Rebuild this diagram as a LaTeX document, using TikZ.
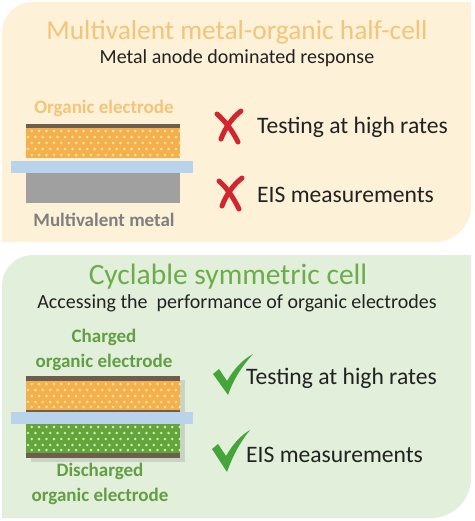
\documentclass[tikz,border=0pt]{standalone}
\usepackage{fontspec}
\setmainfont{Carlito}
\usetikzlibrary{shadows}
\definecolor{cream}{HTML}{FDF1D8}
\definecolor{mint}{HTML}{E2EFDA}
\definecolor{gold}{HTML}{F4C478}
\definecolor{leaf}{HTML}{6CAD4B}
\definecolor{darkleaf}{HTML}{629E44}
\definecolor{amber}{HTML}{F5B04E}
\definecolor{amberdot}{HTML}{FFE6A0}
\definecolor{grass}{HTML}{62A539}
\definecolor{grassdot}{HTML}{D4EBC0}
\definecolor{sky}{HTML}{B8D3EA}
\definecolor{slate}{HTML}{A0A0A0}
\definecolor{slatetext}{HTML}{7F7F7F}
\definecolor{umber}{HTML}{6E5E4E}
\definecolor{crimson}{HTML}{D3252D}
\definecolor{tick}{HTML}{45A53A}
\definecolor{ink}{HTML}{222222}
\tikzstyle{heading}=[inner sep=0pt, font=\fontsize{28}{30}\selectfont]
\tikzstyle{subhead}=[inner sep=0pt, text=ink, font=\fontsize{20}{22}\selectfont]
\tikzstyle{layerlabel}=[inner sep=0pt, align=center, font=\bfseries\fontsize{19}{25}\selectfont]
\tikzstyle{item}=[inner sep=0pt, anchor=west, text=ink, font=\fontsize{23.6}{25}\selectfont]
\tikzstyle{cross}=[crimson, line width=5pt, line cap=round]

\begin{document}
\begin{tikzpicture}[x=1pt,y=-1pt]
			\useasboundingbox (0,0) rectangle (474,521);
			\fill[white] (0,0) rectangle (474,521);
			\fill[cream] (2,242) -- (2,33) arc (180:270:31) -- (471,2) -- (471,206) arc (0:90:36) -- cycle;
			\fill[mint] (2,518) -- (2,286) arc (180:270:31) -- (471,255) -- (471,478) arc (0:90:40) -- cycle;
			% half-cell
			\node[heading, text=gold, font=\fontsize{27.4}{30}\selectfont] (title1) at (237,32) {Multivalent metal-organic half-cell};
			\node[subhead] (sub1) at (237,58) {Metal anode dominated response};
			\node[layerlabel, text=gold] (organic) at (104,108) {Organic electrode};
			\fill[umber] (26,124) rectangle (180,128);
			\fill[amber] (26,128) rectangle (180,158);
			\foreach \y [count=\i] in {131,137,143,149,155} {
				\foreach \x in {0,...,20} {
					\fill[amberdot] ({28+7.4*\x+3.7*mod(\i,2)},\y) circle (1.4);
				}
			}
			\fill[sky] (11,161) rectangle (193,173);
			\fill[slate] (26,173) rectangle (180,203);
			\node[layerlabel, text=slatetext] (metal) at (104,220) {Multivalent metal};
			\draw[cross] (217,114) .. controls (225,121) and (232,130) .. (238,142);
			\draw[cross] (241,111) .. controls (232,118) and (225,128) .. (221,139);
			\draw[cross] (219,181) .. controls (227,188) and (233,197) .. (239,209);
			\draw[cross] (242,178) .. controls (233,185) and (226,195) .. (222,206);
			\node[item] (rates1) at (257,127) {Testing at high rates};
			\node[item] (eis1) at (257,195) {EIS measurements};
			% symmetric cell
			\node[heading, text=leaf, font=\fontsize{29.5}{31}\selectfont] (title2) at (228,277) {Cyclable symmetric cell};
			\node[subhead] (sub2) at (237,303) {Accessing the\ \ performance of organic electrodes};
			\node[layerlabel, text=darkleaf] (charged) at (104,350) {Charged\\organic electrode};
			\fill[umber, drop shadow={opacity=0.25, shadow xshift=5pt, shadow yshift=-4pt}] (26,376) rectangle (180,458);
			\fill[amber] (26,381) rectangle (180,410);
			\foreach \y [count=\i] in {384,390,396,402,407} {
				\foreach \x in {0,...,20} {
					\fill[amberdot] ({28+7.4*\x+3.7*mod(\i,2)},\y) circle (1.4);
				}
			}
			\fill[sky] (11,412) rectangle (193,424);
			\fill[grass] (26,424) rectangle (180,453);
			\foreach \y [count=\i] in {427,433,439,445,450} {
				\foreach \x in {0,...,20} {
					\fill[grassdot] ({28+7.4*\x+3.7*mod(\i,2)},\y) circle (1.4);
				}
			}
			\node[layerlabel, text=darkleaf] (discharged) at (100,484) {Discharged\\organic electrode};
			\fill[tick] (213,374) -- (219,369) -- (227,381) .. controls (234,369) and (242,360) .. (253,354) .. controls (243,365) and (234,378) .. (228,395) -- cycle;
			\fill[tick] (212,449) -- (218,444) -- (226,456) .. controls (233,444) and (240,436) .. (250,430) .. controls (241,441) and (233,455) .. (227,472) -- cycle;
			\node[item] (rates2) at (246,378) {Testing at high rates};
			\node[item] (eis2) at (246,455) {EIS measurements};
		\end{tikzpicture}
\end{document}
